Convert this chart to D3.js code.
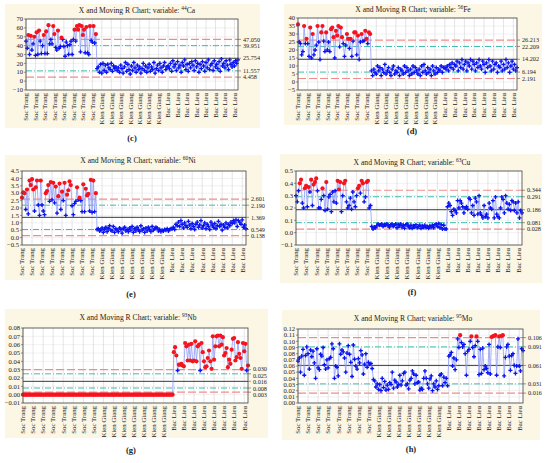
<!DOCTYPE html>
<html>
<head>
<meta charset="utf-8">
<script src="https://cdn.jsdelivr.net/npm/d3@7"></script>
<style>
  body { margin: 0; background: #fff; }
  text { font-family: "Liberation Serif", "Times New Roman", serif; fill: #222; }
</style>
</head>
<body>
<script>
// sample sites, one label every 8th sample
var sites = ["Soc Trang", "Kien Giang", "Bac Lieu"];
var perSite = 60;
var labelStep = 8;

// 44Ca
var caValues = [
  45,37,52,30,51,35,42,50,29,55, 30,57,45,31,40,52,31,56,31,63, 42,47,42,62,53,38,35,57,37,39,
  49,47,39,28,44,40,30,41,45,30, 47,58,45,62,58,63,33,62,52,58, 32,61,32,30,62,46,44,62,43,53,
  14,16,10,19,9,20,12,18,10,19, 15,13,20,11,17,14,16,12,15,10, 18,14,9,16,21,11,19,13,8,17,
  12,21,15,10,18,13,16,9,14,20, 12,17,10,15,19,11,16,13,21,9, 14,18,12,20,15,10,17,21,13,16,
  17,14,20,11,23,16,19,12,22,15, 18,10,21,17,24,13,19,11,20,15, 22,18,12,23,16,20,10,19,14,22,
  17,11,21,15,24,13,18,20,12,23, 16,19,14,22,11,25,17,20,15,23, 18,13,24,19,16,21,17,23,20,24
];
var caLimits = [47.050, 39.951, 25.754, 11.557, 4.458];

// 56Fe
var feValues = [
  36,25,24,17,19,35,24,27,24,16, 34,15,30,17,20,23,35,25,14,31, 35,25.5,19,31,20,25,19,33,34,28,
  15,32,29,35,22,34,28,24,16,23, 30,27,21,27,16,25.5,31,31,17,29, 14,25,30,25.5,25.8,32,27,24,31,30,
  7,4,8,6,5,10,7,9,4,8, 6,11,5,7,9,6,4,8,10,5, 7,6,9,4,8,7,5,10,6,9,
  7,4,8,5,10,6,9,7,5,8, 4,10,6,11,7,5,9,6,8,4, 10,7,5,9,6,8,7,10,6,9,
  9,8,10,7,11,9,12,8,11,10, 13,7,12,9,14,8,11,13,7,12, 10,14,8,13,11,7,12,9,14,10,
  8,13,11,6,12,9,14,10,7,13, 8,11,12,6,10,9,13,7,11,8, 14,9,12,6,10,13,8,11,7,9
];
var feLimits = [26.213, 22.209, 14.202, 6.194, 2.191];

// 60Ni
var niValues = [
  2.7,3.05,3.0,1.9,3.25,1.6,3.85,3.55,3.95,3.25, 1.8,3.4,3.85,2.2,1.5,3.85,2.2,1.8,1.55,3.0,
  3.15,3.55,2.45,3.75,2.55,3.7,2.35,3.45,1.65,2.8, 3.65,1.9,3.1,2.5,3.7,1.5,2.9,3.2,3.8,3.55,
  2.15,1.55,2.3,2.45,3.4,2.55,2.7,2.5,1.75,3.6, 1.75,3.3,2.85,2.95,1.8,3.9,1.7,3.85,1.75,3.0,
  0.55,0.6,0.45,0.5,0.65,0.35,0.55,0.7,0.4,0.6, 0.8,0.5,0.45,0.75,0.35,0.6,0.5,0.4,0.65,0.55,
  0.3,0.6,0.7,0.45,0.55,0.4,0.65,0.5,0.75,0.35, 0.6,0.45,0.7,0.55,0.4,0.8,0.5,0.6,0.35,0.65,
  0.45,0.7,0.55,0.4,0.75,0.5,0.6,0.7,0.65,0.45, 0.55,0.4,0.5,0.45,0.55,0.5,0.6,0.45,0.55,0.6,
  0.6,0.7,0.55,0.9,0.8,1.05,0.75,1.15,0.9,0.65, 1.0,0.8,0.7,1.1,0.85,0.6,0.95,0.75,0.55,0.9,
  1.05,0.7,0.85,1.15,0.65,0.8,1.0,0.6,0.9,0.75, 0.55,1.05,0.85,0.7,0.95,0.6,0.8,1.1,0.75,0.9,
  0.5,0.85,0.7,1.0,0.65,0.9,0.8,1.05,0.95,1.15, 1.0,1.2,0.75,1.15,1.05,0.9,1.2,0.7,0.85,0.6
];
var niLimits = [2.601, 2.190, 1.369, 0.549, 0.138];

// 63Cu
var cuValues = [
  0.3,0.25,0.34,0.4,0.43,0.24,0.2,0.36,0.38,0.21, 0.37,0.33,0.43,0.22,0.39,0.41,0.44,0.34,0.2,0.2,
  0.27,0.36,0.3,0.18,0.41,0.19,0.29,0.31,0.17,0.33, 0.25,0.34,0.24,0.42,0.35,0.41,0.17,0.3,0.4,0.42,
  0.25,0.2,0.22,0.28,0.19,0.33,0.25,0.21,0.3,0.36, 0.38,0.32,0.42,0.4,0.25,0.29,0.41,0.42,0.2,0.22,
  0.05,0.03,0.045,0.04,0.055,0.07,0.06,0.065,0.07,0.05, 0.065,0.06,0.07,0.055,0.045,0.065,0.07,0.05,0.06,0.07,
  0.04,0.065,0.055,0.07,0.045,0.06,0.035,0.065,0.07,0.05, 0.04,0.06,0.035,0.055,0.045,0.065,0.04,0.05,0.06,0.035,
  0.055,0.045,0.06,0.04,0.05,0.035,0.055,0.045,0.06,0.04, 0.065,0.07,0.05,0.075,0.04,0.065,0.03,0.06,0.03,0.03,
  0.21,0.24,0.22,0.17,0.14,0.19,0.18,0.16,0.26,0.2, 0.26,0.24,0.21,0.16,0.2,0.21,0.19,0.28,0.27,0.16,
  0.22,0.14,0.28,0.25,0.15,0.3,0.16,0.14,0.12,0.22, 0.13,0.15,0.12,0.24,0.2,0.19,0.26,0.12,0.29,0.15,
  0.13,0.12,0.2,0.29,0.27,0.16,0.3,0.24,0.19,0.23, 0.18,0.26,0.25,0.18,0.24,0.16,0.25,0.12,0.18,0.16
];
var cuLimits = [0.344, 0.291, 0.186, 0.081, 0.028];

// 93Nb
var nbValues = [
  0,0,0,0,0,0,0,0,0,0, 0,0,0,0,0,0,0,0,0,0, 0,0,0,0,0,0,0,0,0,0,
  0,0,0,0,0,0,0,0,0,0, 0,0,0,0,0,0,0,0,0,0, 0,0,0,0,0,0,0,0,0,0,
  0,0,0,0,0,0,0,0,0,0, 0,0,0,0,0,0,0,0,0,0, 0,0,0,0,0,0,0,0,0,0,
  0,0,0,0,0,0,0,0,0,0, 0,0,0,0,0,0,0,0,0,0, 0,0,0,0,0,0,0,0,0,0,
  0.051,0.057,0.047,0.029,0.036,0.036,0.037,0.035,0.034,0.062, 0.058,0.041,0.06,0.041,0.061,0.04,0.041,0.064,0.04,0.058,
  0.06,0.029,0.062,0.051,0.04,0.033,0.034,0.044,0.053,0.04, 0.031,0.07,0.042,0.058,0.07,0.071,0.058,0.071,0.06,0.069,
  0.047,0.05,0.056,0.033,0.042,0.037,0.054,0.067,0.068,0.041, 0.045,0.063,0.049,0.044,0.031,0.062,0.052,0.061,0.029,0.035
];
var nbLimits = [0.030, 0.025, 0.016, 0.008, 0.003];

// 95Mo
var moValues = [
  0.068,0.073,0.05,0.076,0.087,0.045,0.077,0.091,0.08,0.055, 0.086,0.075,0.084,0.065,0.04,0.088,0.057,0.054,0.079,0.076,
  0.09,0.062,0.055,0.07,0.057,0.072,0.074,0.096,0.088,0.04, 0.06,0.058,0.044,0.096,0.079,0.086,0.083,0.073,0.05,0.081,
  0.093,0.079,0.066,0.043,0.094,0.071,0.06,0.055,0.072,0.065, 0.085,0.078,0.047,0.063,0.08,0.058,0.066,0.063,0.064,0.056,
  0.038,0.036,0.026,0.031,0.022,0.03,0.02,0.04,0.025,0.035, 0.021,0.029,0.022,0.033,0.03,0.05,0.024,0.037,0.034,0.026,
  0.03,0.045,0.029,0.036,0.048,0.05,0.029,0.031,0.023,0.037, 0.04,0.052,0.047,0.031,0.045,0.033,0.034,0.021,0.024,0.022,
  0.04,0.052,0.04,0.031,0.024,0.039,0.044,0.02,0.031,0.026, 0.036,0.022,0.028,0.045,0.047,0.028,0.042,0.033,0.04,0.028,
  0.076,0.078,0.082,0.06,0.073,0.054,0.07,0.104,0.09,0.11, 0.098,0.091,0.095,0.08,0.045,0.084,0.087,0.1,0.108,0.09,
  0.075,0.093,0.108,0.1,0.046,0.087,0.048,0.089,0.054,0.06, 0.056,0.049,0.095,0.047,0.107,0.108,0.109,0.11,0.045,0.091,
  0.108,0.09,0.109,0.11,0.044,0.074,0.091,0.095,0.076,0.053, 0.077,0.08,0.061,0.048,0.06,0.104,0.06,0.052,0.088,0.085
];
var moLimits = [0.106, 0.091, 0.061, 0.031, 0.016];

var charts = [
  {tag: "(c)", mass: "44", el: "Ca", values: caValues, limits: caLimits, y: [-10, 70], step: 10, fmt: "d",
   bg: [5, 4, 255, 124], box: [26, 19, 238, 90], titleX: 137, titleY: 13, tagPos: [132, 141]},
  {tag: "(d)", mass: "56", el: "Fe", values: feValues, limits: feLimits, y: [-5, 40], step: 5, fmt: "d",
   bg: [284, 4, 258, 121], box: [298, 18, 517, 90], titleX: 413, titleY: 12, tagPos: [412, 134]},
  {tag: "(e)", mass: "60", el: "Ni", values: niValues, limits: niLimits, y: [-0.5, 4.5], step: 0.5, fmt: ".1f",
   bg: [5, 155, 257, 125], box: [22, 171, 246, 245], titleX: 138, titleY: 163, tagPos: [131, 297]},
  {tag: "(f)", mass: "63", el: "Cu", values: cuValues, limits: cuLimits, y: [-0.1, 0.5], step: 0.1, fmt: ".1f",
   bg: [280, 154, 262, 129], box: [296, 171, 522, 245], titleX: 412, titleY: 165, tagPos: [412, 295]},
  {tag: "(g)", mass: "93", el: "Nb", values: nbValues, limits: nbLimits, y: [-0.01, 0.08], step: 0.01, fmt: ".2f",
   bg: [5, 309, 263, 129], box: [23, 328, 248, 403], titleX: 138, titleY: 320, tagPos: [131, 453]},
  {tag: "(h)", mass: "95", el: "Mo", values: moValues, limits: moLimits, y: [0, 0.12], step: 0.01, fmt: ".2f",
   bg: [282, 310, 258, 130], box: [298, 329, 523, 403], titleX: 413, titleY: 321, tagPos: [411, 452]}
];

var svg = d3.select("body").append("svg")
    .attr("width", 550)
    .attr("height", 463);

// limit line styles: UCL, +2s, centre, -2s, LCL
var limitStyle = [
  {color: "#f28c8c", dash: "8,3", w: 1.2},
  {color: "#3dbdaa", dash: "6,2,1,2", w: 1},
  {color: "#3a3a3a", dash: null, w: 1},
  {color: "#3dbdaa", dash: "6,2,1,2", w: 1},
  {color: "#f28c8c", dash: "8,3", w: 1.2}
];

charts.forEach(function(c){
    var n = c.values.length;
    var g = svg.append("g");

    g.append("rect")
        .attr("x", c.bg[0]).attr("y", c.bg[1])
        .attr("width", c.bg[2]).attr("height", c.bg[3])
        .attr("fill", "#fcf6e5");

    var x0 = c.box[0], y0 = c.box[1], x1 = c.box[2], y1 = c.box[3];
    g.append("rect")
        .attr("x", x0).attr("y", y0)
        .attr("width", x1 - x0).attr("height", y1 - y0)
        .attr("fill", "#fff");

    var x = d3.scaleLinear().domain([1, n]).range([x0, x1]);
    var y = d3.scaleLinear().domain(c.y).range([y1, y0]);

    var yTicks = d3.range(c.y[0], c.y[1] + c.step / 2, c.step);
    var fmt = d3.format(c.fmt);

    // horizontal grid
    g.selectAll(".hg").data(yTicks).enter().append("line")
        .attr("x1", x0).attr("x2", x1)
        .attr("y1", function(d){ return y(d); })
        .attr("y2", function(d){ return y(d); })
        .attr("stroke", "#e2e2e2").attr("stroke-width", 0.5);

    // sample labels
    var lab = [];
    for (var i = 1; i <= n; i += labelStep)
        lab.push({i: i, name: sites[Math.floor((i - 1) / perSite)]});

    g.selectAll(".vg").data(lab).enter().append("line")
        .attr("x1", function(d){ return x(d.i); })
        .attr("x2", function(d){ return x(d.i); })
        .attr("y1", y0).attr("y2", y1)
        .attr("stroke", "#d4d4d4").attr("stroke-width", 0.6);

    g.selectAll(".xl").data(lab).enter().append("text")
        .attr("transform", function(d){ return "translate(" + (x(d.i) + 2.3) + "," + (y1 + 3) + ") rotate(-90)"; })
        .attr("text-anchor", "end")
        .style("font-size", "6.8px")
        .text(function(d){ return d.name; });

    // limit lines
    c.limits.forEach(function(v, k){
        var s = limitStyle[k];
        g.append("line")
            .attr("x1", x0).attr("x2", x1)
            .attr("y1", y(v)).attr("y2", y(v))
            .attr("stroke", s.color).attr("stroke-width", s.w)
            .attr("stroke-dasharray", s.dash);
        g.append("line")
            .attr("x1", x1).attr("x2", x1 + 3)
            .attr("y1", y(v)).attr("y2", y(v))
            .attr("stroke", "#555").attr("stroke-width", 0.6);
    });

    // right-side limit labels, pushed apart where they would collide
    var ly = c.limits.map(function(v){ return y(v); });
    var gap = 6.4;
    for (var k = 1; k < ly.length; k++)
        if (ly[k] - ly[k - 1] < gap) ly[k] = ly[k - 1] + gap;
    var mid = ly[2] - y(c.limits[2]);
    if (mid > 0) ly = ly.map(function(v){ return v - mid / 2; });

    c.limits.forEach(function(v, k){
        g.append("text")
            .attr("x", x1 + 5).attr("y", ly[k] + 2.2)
            .style("font-size", "6.2px")
            .text(d3.format(".3f")(v));
    });

    // y axis labels
    g.selectAll(".yl").data(yTicks).enter().append("text")
        .attr("x", x0 - 3).attr("y", function(d){ return y(d) + 2.2; })
        .attr("text-anchor", "end")
        .style("font-size", "6.6px")
        .text(function(d){ return fmt(d); });

    g.selectAll(".yt").data(yTicks).enter().append("line")
        .attr("x1", x0 - 2).attr("x2", x0)
        .attr("y1", function(d){ return y(d); })
        .attr("y2", function(d){ return y(d); })
        .attr("stroke", "#555").attr("stroke-width", 0.6);

    // the series
    var line = d3.line()
        .x(function(d, i){ return x(i + 1); })
        .y(function(d){ return y(d); });

    g.append("path")
        .datum(c.values)
        .attr("d", line)
        .attr("fill", "none")
        .attr("stroke", "#8f9cf6")
        .attr("stroke-width", 0.8);

    var ucl = c.limits[0], lcl = c.limits[4];
    var pts = c.values.map(function(v, i){ return {i: i + 1, v: v, out: v > ucl || v < lcl}; });

    g.selectAll(".pb").data(pts.filter(function(d){ return !d.out; })).enter().append("path")
        .attr("transform", function(d){ return "translate(" + x(d.i) + "," + y(d.v) + ")"; })
        .attr("d", d3.symbol(d3.symbolCross).size(9))
        .attr("fill", "#0a14f0");

    g.selectAll(".pr").data(pts.filter(function(d){ return d.out; })).enter().append("circle")
        .attr("cx", function(d){ return x(d.i); })
        .attr("cy", function(d){ return y(d.v); })
        .attr("r", 2.1)
        .attr("fill", "#f5141e");

    g.append("rect")
        .attr("x", x0).attr("y", y0)
        .attr("width", x1 - x0).attr("height", y1 - y0)
        .attr("fill", "none")
        .attr("stroke", "#444").attr("stroke-width", 0.8);

    // title with superscript mass number
    var t = g.append("text")
        .attr("x", c.titleX).attr("y", c.titleY)
        .attr("text-anchor", "middle")
        .style("font-size", "7.6px");
    t.append("tspan").text("X and Moving R Chart; variable: ");
    t.append("tspan").attr("dy", -2.8).style("font-size", "5.4px").text(c.mass);
    t.append("tspan").attr("dy", 2.8).text(c.el);

    g.append("text")
        .attr("x", c.tagPos[0]).attr("y", c.tagPos[1])
        .attr("text-anchor", "middle")
        .style("font-size", "8.5px")
        .style("font-weight", "bold")
        .text(c.tag);
});
</script>
</body>
</html>
